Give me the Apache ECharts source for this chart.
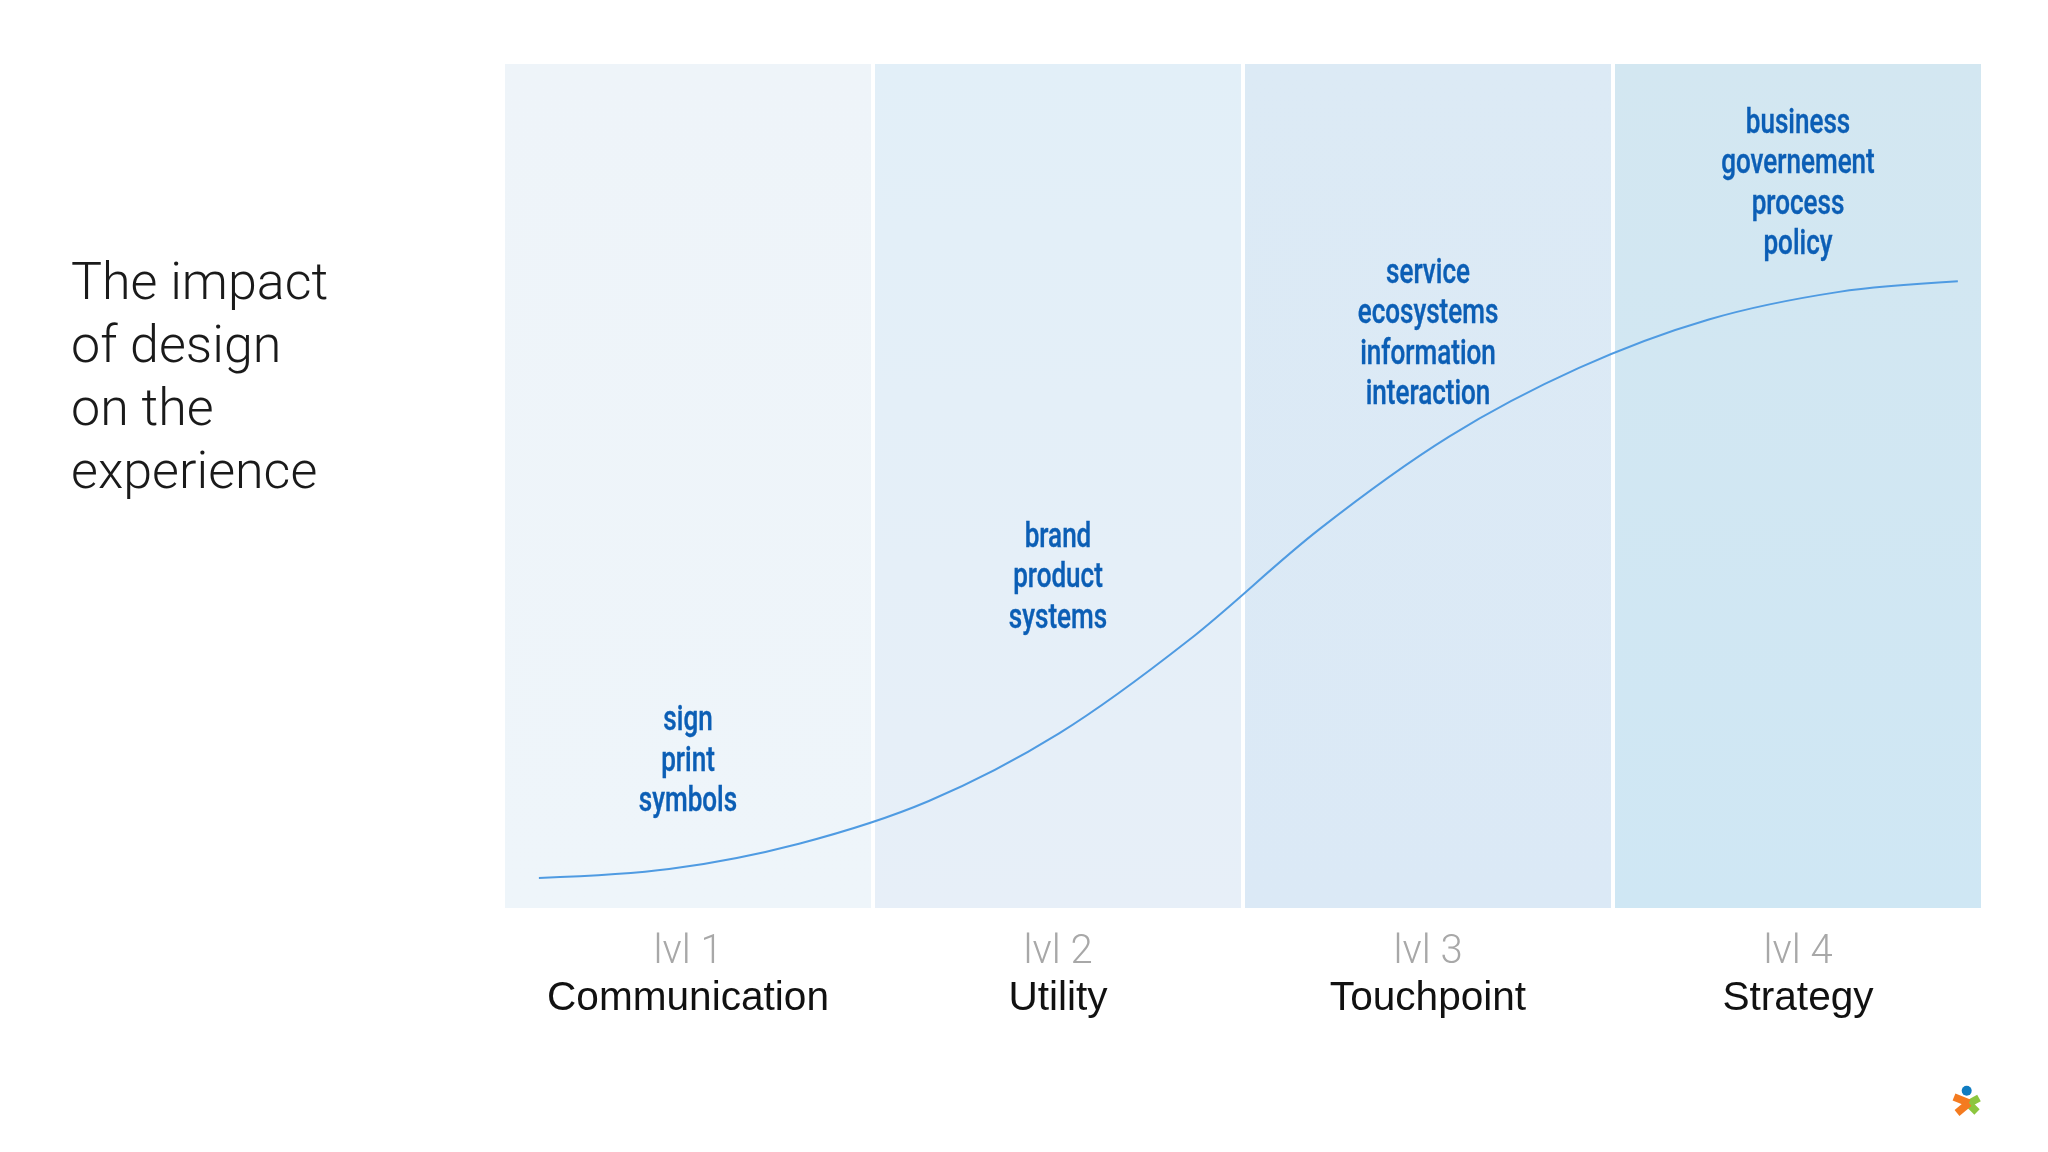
<!DOCTYPE html>
<html>
<head>
<meta charset="utf-8">
<title>The impact of design on the experience</title>
<script src="https://cdn.jsdelivr.net/npm/echarts@6/dist/echarts.min.js"></script>
<style>
  html, body { margin: 0; padding: 0; background: #fff; }
  #chart { width: 2048px; height: 1152px; }
</style>
</head>
<body>
<div id="chart"></div>
<script>
var levels = ['lvl 1', 'lvl 2', 'lvl 3', 'lvl 4'];
var categories = ['Communication', 'Utility', 'Touchpoint', 'Strategy'];
var bandValues = [100, 100, 100, 100];
var terms = [
    ['sign', 'print', 'symbols'],
    ['brand', 'product', 'systems'],
    ['service', 'ecosystems', 'information', 'interaction'],
    ['business', 'governement', 'process', 'policy']
];
// 文字块在纵轴上的中心位置
var termAnchors = [17.3, 39, 67.9, 85.7];
// 曲线，横轴 0-4 对应四个层级
var curveX = [0.097, 0.449, 0.8, 1.151, 1.503, 1.854, 2.205, 2.557, 2.908, 3.259, 3.611, 3.932];
var curveY = [3.55, 4.61, 7.62, 12.68, 20.69, 31.75, 44.83, 55.85, 63.99, 69.73, 73.0, 74.25];

var bandColors = [
    ['#eef4f9', '#eef5fa'],
    ['#e2eff8', '#e7eff8'],
    ['#dceaf5', '#dbe9f6'],
    ['#d3e7f1', '#cfe7f4']
];

var chart = echarts.init(document.getElementById('chart'), null, { renderer: 'canvas' });

var option = {
    animation: false,
    backgroundColor: '#ffffff',
    title: {
        text: 'The impact\nof design\non the\nexperience',
        left: 71,
        top: 254,
        padding: 0,
        textStyle: {
            fontFamily: 'Roboto',
            fontWeight: 300,
            fontSize: 52,
            lineHeight: 63,
            color: '#1a1a1a'
        }
    },
    grid: { left: 503, right: 65, top: 64, bottom: 244 },
    xAxis: [
        {
            type: 'category',
            data: categories,
            axisLine: { show: false },
            axisTick: { show: false },
            axisLabel: {
                margin: 21,
                formatter: function (value, index) {
                    return '{lvl|' + levels[index] + '}\n{name|' + value + '}';
                },
                rich: {
                    lvl: { fontFamily: 'Roboto', fontWeight: 300, fontSize: 40, lineHeight: 48, color: '#a8a8a8' },
                    name: { fontFamily: 'Liberation Sans', fontSize: 40.6, lineHeight: 43, color: '#111111' }
                }
            }
        },
        { type: 'value', min: 0, max: 4, show: false }
    ],
    yAxis: { type: 'value', min: 0, max: 100, show: false },
    series: [
        {
            type: 'bar',
            barWidth: 366,
            data: bandValues.map(function (v, i) {
                return {
                    value: v,
                    itemStyle: {
                        color: new echarts.graphic.LinearGradient(0, 0, 0, 1, [
                            { offset: 0, color: bandColors[i][0] },
                            { offset: 1, color: bandColors[i][1] }
                        ])
                    }
                };
            })
        },
        {
            type: 'line',
            xAxisIndex: 1,
            smooth: 0.33,
            showSymbol: false,
            lineStyle: { color: '#4f9be2', width: 2 },
            data: curveX.map(function (x, i) { return [x, curveY[i]]; }),
            z: 3
        },
        {
            // 没有窄体字体，用 scaleX 把文字压窄
            type: 'custom',
            data: termAnchors.map(function (y, i) { return [i, y]; }),
            renderItem: function (params, api) {
                var pos = api.coord([api.value(0), api.value(1)]);
                return {
                    type: 'text',
                    x: pos[0],
                    y: pos[1],
                    scaleX: 0.755,
                    style: {
                        text: terms[params.dataIndex].join('\n'),
                        fontFamily: 'Roboto',
                        fontWeight: 500,
                        fontSize: 34.5,
                        lineHeight: 40.5,
                        align: 'center',
                        verticalAlign: 'middle',
                        fill: '#0b5eb5',
                        stroke: '#0b5eb5',
                        lineWidth: 0.4
                    }
                };
            },
            z: 4
        }
    ],
    graphic: [
        { type: 'line', shape: { x1: 1979, y1: 1098, x2: 1968, y2: 1104 }, style: { stroke: '#8cc63f', lineWidth: 7.5 } },
        { type: 'line', shape: { x1: 1968, y1: 1103, x2: 1977, y2: 1112 }, style: { stroke: '#8cc63f', lineWidth: 7.5 } },
        { type: 'line', shape: { x1: 1954, y1: 1097, x2: 1969, y2: 1103 }, style: { stroke: '#f47b20', lineWidth: 7.5 } },
        { type: 'line', shape: { x1: 1969, y1: 1103, x2: 1957, y2: 1113 }, style: { stroke: '#f47b20', lineWidth: 7.5 } },
        { type: 'circle', shape: { cx: 1966.7, cy: 1090.7, r: 5 }, style: { fill: '#0f7cc1' } }
    ]
};

chart.setOption(option);
</script>
</body>
</html>
